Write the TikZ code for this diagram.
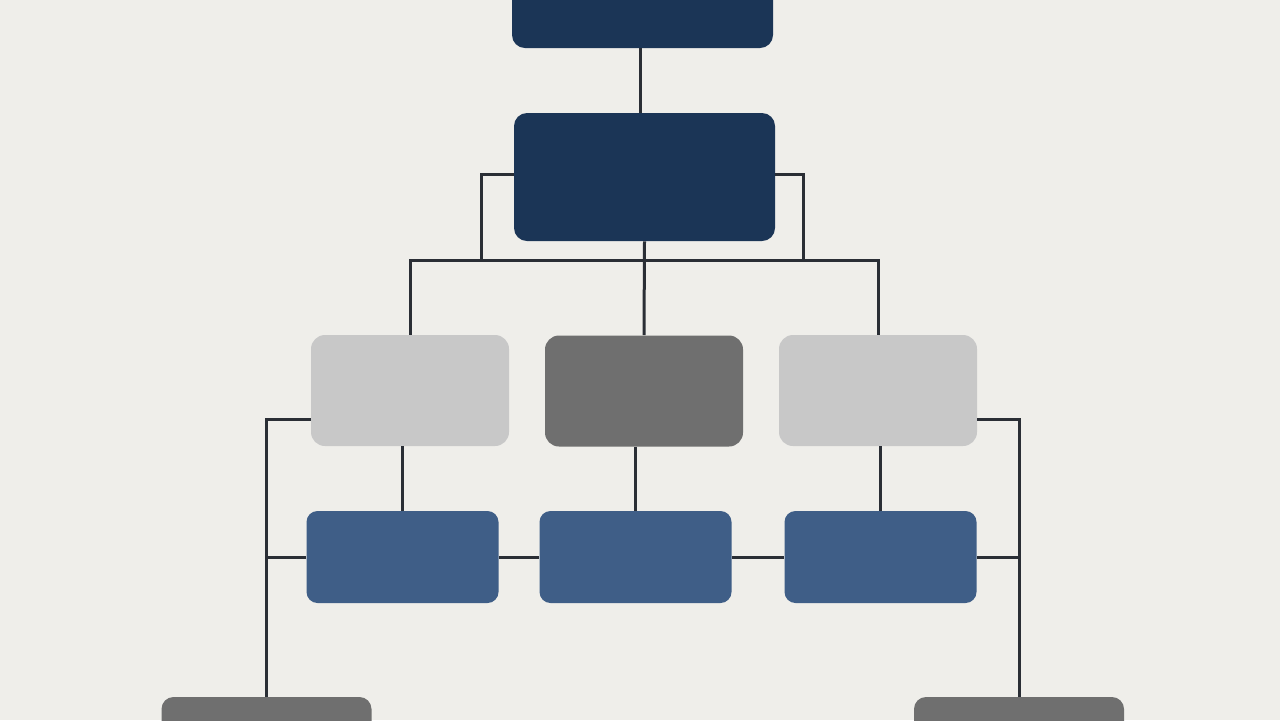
\documentclass[tikz,border=0pt]{standalone}
\usetikzlibrary{calc}
\definecolor{bg}{HTML}{EFEEEA}
\definecolor{navy}{HTML}{1B3556}
\definecolor{steel}{HTML}{3F5E87}
\definecolor{lgray}{HTML}{C8C8C8}
\definecolor{dgray}{HTML}{6F6F6F}
\definecolor{wire}{HTML}{2A2E35}
\begin{document}
\begin{tikzpicture}[x=0.5pt,y=-0.5pt,
  box/.style={rectangle, rounded corners=6.5pt, draw=none, inner sep=0pt},
  navybox/.style={box, fill=navy, minimum width=130.5pt, minimum height=64pt},
  graybox/.style={box, minimum width=99pt, minimum height=55.5pt, rounded corners=7pt},
  bluebox/.style={box, fill=steel, minimum width=96pt, minimum height=46pt, rounded corners=5.5pt},
  botbox/.style={box, fill=dgray, minimum width=105pt, minimum height=50pt, rounded corners=6pt},
  conn/.style={draw=wire, line width=1.5pt}]
\clip (0,0) rectangle (1280,720);
\fill[bg] (0,0) rectangle (1280,720);
\useasboundingbox (0,0) rectangle (1280,720);

\coordinate (hbar) at (0,260);
\coordinate (sideY) at (0,419);
\coordinate (bLx) at (481,0);
\coordinate (bRx) at (803,0);

% connectors first (behind boxes)
\node[navybox] (top) at (642.5,-16) {};
\node[navybox] (b2) at (644.5,177) {};
\node[graybox, fill=lgray] (grayL) at (410,390.5) {};
\node[graybox, fill=dgray] (grayM) at (644,391) {};
\node[graybox, fill=lgray] (grayR) at (878,390.5) {};
\node[bluebox] (blueL) at (402.5,557) {};
\node[bluebox] (blueM) at (635.5,557) {};
\node[bluebox] (blueR) at (880.5,557) {};
\node[botbox] (botL) at (266.5,747) {};
\node[botbox] (botR) at (1019,747) {};

\begin{scope}[on background layer/.try]
\end{scope}

\draw[conn] ([xshift=-1.25pt]top.south) -- ([xshift=-1.25pt]top.south |- b2.north);
\draw[conn] ([yshift=1.5pt]b2.west) -| (bLx |- hbar);
\draw[conn] ([yshift=1.5pt]b2.east) -| (bRx |- hbar);
\draw[conn] (grayL.north) -- (grayL.north |- hbar) -- (grayR.north |- hbar) -- (grayR.north);
\draw[conn] (b2.south) -- (grayM.north);
\draw[conn] (grayL.west |- sideY) -| (botL.north);
\draw[conn] (grayR.east |- sideY) -| (botR.north);
\draw[conn] (blueL.north |- grayL.south) -- (blueL.north);
\draw[conn] (blueM.north |- grayM.south) -- (blueM.north);
\draw[conn] (blueR.north |- grayR.south) -- (blueR.north);
\draw[conn] (blueL.west) -- (blueL.west -| botL.north);
\draw[conn] (blueL.east) -- (blueM.west);
\draw[conn] (blueM.east) -- (blueR.west);
\draw[conn] (blueR.east) -- (blueR.east -| botR.north);
\end{tikzpicture}
\end{document}
